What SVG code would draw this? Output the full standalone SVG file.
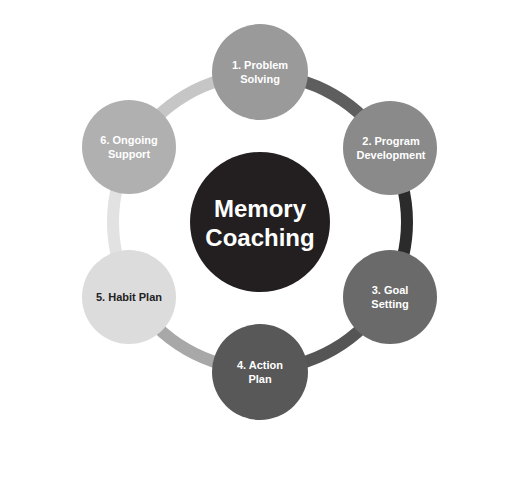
<svg xmlns="http://www.w3.org/2000/svg" width="513" height="498" viewBox="0 0 513 498">
<style>
.lbl{font-family:"Liberation Sans",Arial,sans-serif;font-weight:bold;font-size:11px;text-anchor:middle;fill:#fff}
.ctr{font-family:"Liberation Sans",Arial,sans-serif;font-weight:bold;font-size:24px;text-anchor:middle;fill:#fff}
.arc{fill:none;stroke-width:12}
</style>
<rect width="513" height="498" fill="#fff"/>
<g id="connectors">
<path class="arc" stroke="#5e5e5e" d="M260,75 A147,147 0 0 1 387.3,148.5"/>
<path class="arc" stroke="#2b2b2b" d="M387.3,148.5 A147,147 0 0 1 387.3,295.5"/>
<path class="arc" stroke="#555" d="M387.3,295.5 A147,147 0 0 1 260,369"/>
<path class="arc" stroke="#a8a8a8" d="M260,369 A147,147 0 0 1 132.7,295.5"/>
<path class="arc" stroke="#e2e2e2" d="M132.7,295.5 A147,147 0 0 1 132.7,148.5"/>
<path class="arc" stroke="#c6c6c6" d="M132.7,148.5 A147,147 0 0 1 260,75"/>
</g>
<g id="center"><circle cx="260" cy="222" r="70" fill="#231f20"/>
<text class="ctr" x="260" y="217">Memory</text><text class="ctr" x="260" y="246">Coaching</text></g>
<g id="n1"><circle cx="260" cy="72" r="48" fill="#9a9a9a"/><text class="lbl" x="260" y="69">1. Problem</text><text class="lbl" x="260" y="83">Solving</text></g>
<g id="n2"><circle cx="390" cy="148" r="47" fill="#8a8a8a"/><text class="lbl" x="391" y="145">2. Program</text><text class="lbl" x="391" y="159">Development</text></g>
<g id="n3"><circle cx="390" cy="297" r="47" fill="#6a6a6a"/><text class="lbl" x="390" y="294">3. Goal</text><text class="lbl" x="390" y="308">Setting</text></g>
<g id="n4"><circle cx="260" cy="372" r="48" fill="#585858"/><text class="lbl" x="260" y="369">4. Action</text><text class="lbl" x="260" y="383">Plan</text></g>
<g id="n5"><circle cx="129" cy="297" r="47" fill="#dcdcdc"/><text class="lbl" x="129" y="301" fill="#222" style="fill:#222">5. Habit Plan</text></g>
<g id="n6"><circle cx="129" cy="147" r="47" fill="#b0b0b0"/><text class="lbl" x="129" y="144">6. Ongoing</text><text class="lbl" x="129" y="158">Support</text></g>
</svg>
